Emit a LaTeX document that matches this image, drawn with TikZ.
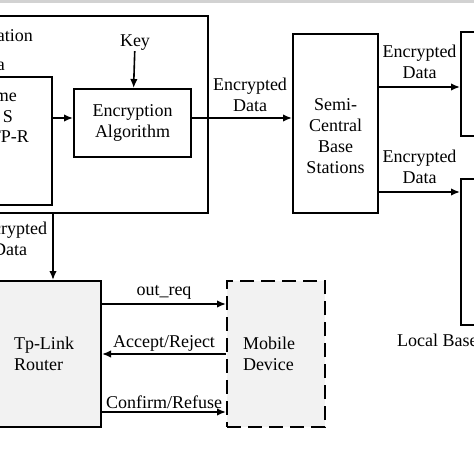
\documentclass[tikz,border=0pt]{standalone}
\usepackage{fontspec}
\setmainfont{Liberation Serif}
\usetikzlibrary{positioning, arrows.meta}

\begin{document}
\begin{tikzpicture}[x=1pt,y=-1pt,>={Latex[length=9pt,width=7.5pt]},
        every node/.style={font=\fontsize{18}{21}\selectfont},
        box/.style={draw, line width=2pt, inner sep=0pt, align=center},
        lbl/.style={inner sep=0pt, align=center},
        link/.style={->, line width=1.6pt}]
        \useasboundingbox (0,0) rectangle (474,474);
        \clip (0,0) rectangle (474,474);
        \fill[gray!35] (0,0) rectangle (474,2.5);

        % Nodes
        \node (outer) [box, minimum width=228, minimum height=197] at (94,114.5) {};
        \node (src) [box, minimum width=82, minimum height=128] at (11,141) {};
        \node (enc) [box, minimum width=117, minimum height=68] at (132.5,123) {Encryption\\Algorithm};
        \node (key) [lbl] at (135,43) {Key};
        \node (semi) [box, minimum width=85, minimum height=179] at (335.5,123.5) {};
        \node (semilbl) [lbl] at (335.5,136) {Semi-\\Central\\Base\\Stations};
        \node (up) [box, minimum width=40, minimum height=104] at (481,84) {};
        \node (low) [box, minimum width=40, minimum height=146] at (481,252) {};
        \node (loclbl) [lbl, anchor=west] at (397,340) {Local Base};
        \node (router) [box, fill=gray!10, minimum width=121, minimum height=146] at (40.5,354) {};
        \node (routerlbl) [lbl, align=left] at (44,354) {Tp-Link\\Router};
        \node (mobile) [box, dash pattern=on 14pt off 7pt, fill=gray!10, minimum width=98, minimum height=146] at (276,354) {};
        \node (mobilelbl) [lbl, align=left] at (269,354) {Mobile\\Device};

        % cut-off texts on the left
        \node (t1) [lbl, anchor=east] at (33,36) {ation};
        \node (t2) [lbl, anchor=east] at (5,66) {a};
        \node (t3) [lbl, anchor=east] at (17,97) {me};
        \node (t4) [lbl, anchor=east] at (13,117) {S};
        \node (t5) [lbl, anchor=east] at (29,137) {TP-R};

        % Arrows
        \draw[link] (key) -- (enc);
        \draw[link] ([yshift=5]enc.west -| src.east) -- ([yshift=5]enc.west);
        \draw[link] ([yshift=5]enc.east) -- ([yshift=5]enc.east -| semi.west)
            node[lbl, pos=0.58, above=6pt] {Encrypted\\Data};
        \draw[link] ([yshift=-3]up.west -| semi.east) -- ([yshift=-3]up.west)
            node[lbl, midway, above=8pt] {Encrypted\\Data};
        \draw[link] ([yshift=-14]low.north west -| semi.east) -- ([yshift=-14]low.north west)
            node[lbl, midway, above=8pt] {Encrypted\\Data};
        \draw[link] (src.east |- outer.south) -- (src.east |- router.north)
            node[lbl, pos=0.37, left=5pt] {Encrypted\\Data};
        \draw[link] ([yshift=-24]router.north east) -- ([yshift=-24]router.north east -| mobile.west)
            node[lbl, midway, above=4pt] {out\_req};
        \draw[link] (mobile.west) -- (router.east)
            node[lbl, midway, above=2pt] {Accept/Reject};
        \draw[link] ([yshift=16]router.south east) -- ([yshift=16]router.south east -| mobile.west)
            node[lbl, midway, above=3pt] {Confirm/Refuse};
\end{tikzpicture}
\end{document}
